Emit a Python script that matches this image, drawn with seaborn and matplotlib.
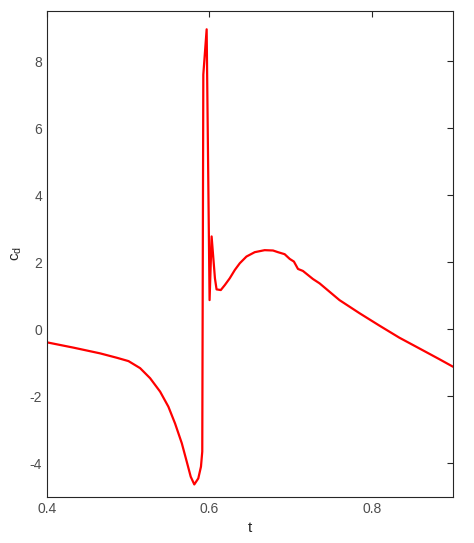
import matplotlib
matplotlib.use("Agg")
import matplotlib.pyplot as plt
import seaborn as sns
import pandas as pd

# hodnoty
t = [0.400, 0.433, 0.4656, 0.486, 0.5004, 0.5147, 0.527, 0.5393, 0.5495, 0.5577,
     0.566, 0.5721, 0.577, 0.5814, 0.5863, 0.5896, 0.5912, 0.5925, 0.5966, 0.6002,
     0.6027, 0.6068, 0.6088, 0.614, 0.619, 0.625, 0.6313, 0.6374, 0.6456, 0.6558,
     0.668, 0.6783, 0.6844, 0.6926, 0.6988, 0.704, 0.709, 0.7151, 0.7274, 0.7356,
     0.7601, 0.7847, 0.8092, 0.8337, 0.8583, 0.8828, 0.900]
cd = [-0.39, -0.55, -0.72, -0.85, -0.95, -1.16, -1.46, -1.86, -2.31, -2.81,
      -3.40, -3.95, -4.40, -4.63, -4.45, -4.10, -3.65, 7.60, 8.95, 0.87,
      2.77, 1.52, 1.19, 1.17, 1.32, 1.52, 1.77, 1.97, 2.17, 2.30,
      2.36, 2.35, 2.30, 2.24, 2.10, 2.02, 1.80, 1.74, 1.50, 1.37,
      0.87, 0.48, 0.11, -0.25, -0.57, -0.89, -1.12]

df = pd.DataFrame({"t": t, "cd": cd})

sns.set_style("white")
plt.rcParams["font.family"] = ["Liberation Sans", "DejaVu Sans"]
plt.rcParams["mathtext.default"] = "regular"
plt.rcParams["axes.unicode_minus"] = False

fig = plt.figure(figsize=(4.74, 5.43), dpi=100)
ax = fig.add_axes([0.099, 0.085, 0.857, 0.895])
sns.lineplot(data=df, x="t", y="cd", sort=False, estimator=None,
             color="#ff0000", linewidth=1.6, ax=ax)

ax.set_xlim(0.4, 0.9)
ax.set_ylim(-5, 9.5)
ax.set_xticks([0.4, 0.6, 0.8])
ax.set_xticklabels(["0.4", "0.6", "0.8"])
ax.set_yticks([-4, -2, 0, 2, 4, 6, 8])
ax.set_xlabel("t", fontsize=11, color="#262626")
ax.set_ylabel("c$_d$", fontsize=11, color="#262626")
ax.tick_params(direction="in", length=4, width=0.8, colors="#262626",
               labelcolor="#4d4d4d", labelsize=10, top=True, right=True,
               labeltop=False, labelright=False)
for s in ax.spines.values():
    s.set_color("#262626")
    s.set_linewidth(0.8)

fig.savefig("out.png", dpi=100)
